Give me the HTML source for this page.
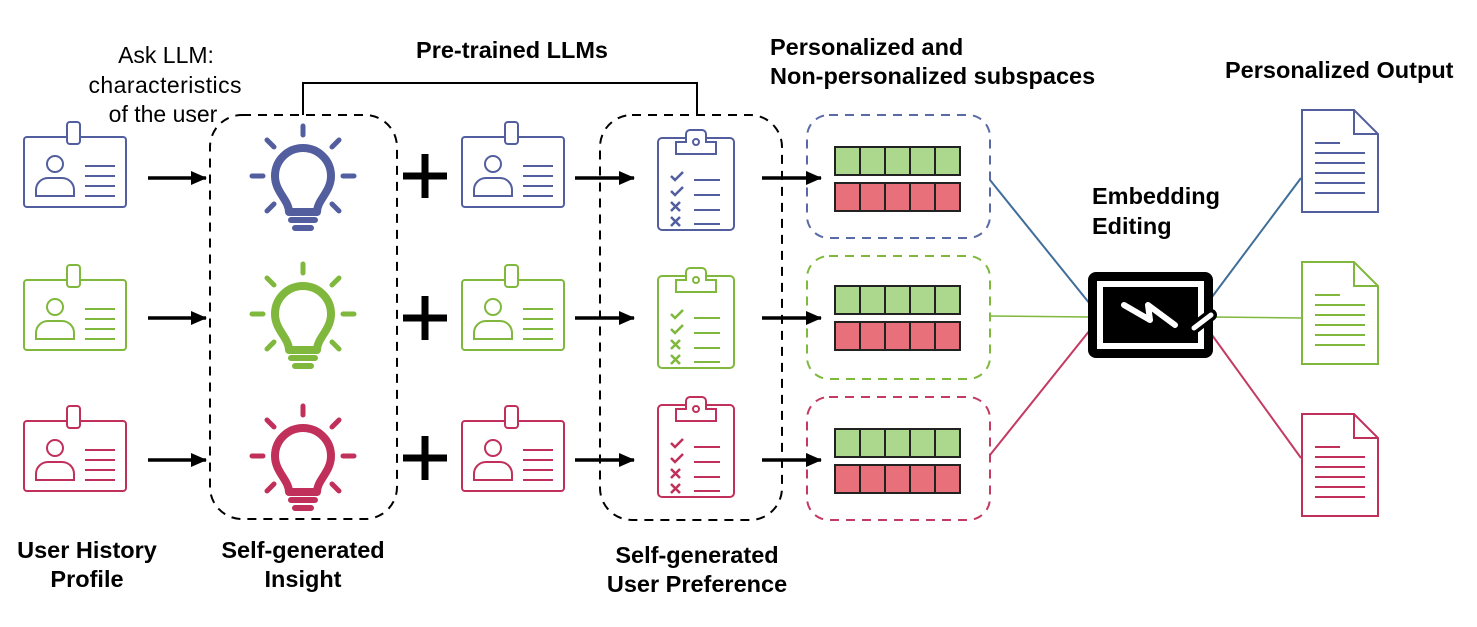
<!DOCTYPE html>
<html><head><meta charset="utf-8"><style>
html,body{margin:0;padding:0;background:#fff;}
svg{display:block;}
text{font-family:"Liberation Sans",Arial,sans-serif;fill:#000;}
.b{font-weight:bold;font-size:23.5px;}
.n{font-size:23px;}
</style></head><body>
<svg width="1477" height="627" viewBox="0 0 1477 627" xmlns="http://www.w3.org/2000/svg">
<defs>
<marker id="ah" markerWidth="16" markerHeight="14" refX="15" refY="7" orient="auto" markerUnits="userSpaceOnUse">
<path d="M0,0 L16,7 L0,14 Z" fill="#000"/></marker>
<g id="card">
<rect x="0" y="15" width="102" height="70" rx="3" fill="none" stroke="currentColor" stroke-width="2"/>
<rect x="43" y="0" width="13" height="22" rx="3" fill="#fff" stroke="currentColor" stroke-width="2"/>
<circle cx="31" cy="42" r="8" fill="none" stroke="currentColor" stroke-width="2"/>
<path d="M12,74 v-6 a12,12 0 0 1 12,-12 h14 a12,12 0 0 1 12,12 v6 z" fill="none" stroke="currentColor" stroke-width="2"/>
<path d="M61,44 h30 M61,54 h30 M61,64 h30 M61,74 h30" stroke="currentColor" stroke-width="2"/>
</g>
<g id="bulb">
<path d="M-14,30 C-14,18 -28,10 -28,-6 A28,28 0 0 1 28,-6 C28,10 14,18 14,30 Z" fill="none" stroke="currentColor" stroke-width="8" stroke-linejoin="round"/>
<path d="M-12,38 h24 M-8,46 h16" stroke="currentColor" stroke-width="6" stroke-linecap="round"/>
<path d="M0,-47 v-9 M-40,-6 h-11 M40,-6 h11 M-29,-35 l-7,-7 M29,-35 l7,-7 M-29,22 l-7,7 M29,22 l7,7" stroke="currentColor" stroke-width="5" stroke-linecap="round"/>
</g>
<g id="clip">
<rect x="0" y="12" width="76" height="92" rx="4" fill="none" stroke="currentColor" stroke-width="2"/>
<path d="M18,28 v-12 h10 v-8 a4,4 0 0 1 4,-4 h12 a4,4 0 0 1 4,4 v8 h10 v12 z" fill="#fff" stroke="currentColor" stroke-width="2"/>
<circle cx="38" cy="16" r="3" fill="none" stroke="currentColor" stroke-width="2"/>
<path d="M13,50 l4,4 l8,-8 M13,65 l4,4 l8,-8 M13,76 l9,9 M22,76 l-9,9 M13,91 l9,9 M22,91 l-9,9" fill="none" stroke="currentColor" stroke-width="2.5"/>
<path d="M36,54 h26 M36,69 h26 M36,84 h26 M36,98 h26" stroke="currentColor" stroke-width="2"/>
</g>
<g id="emb">
<rect x="0" y="0" width="125" height="28" fill="#acd88e" stroke="#222" stroke-width="2"/>
<rect x="0" y="36" width="125" height="28" fill="#e8707a" stroke="#222" stroke-width="2"/>
<path d="M25,0 v28 M50,0 v28 M75,0 v28 M100,0 v28 M25,36 v28 M50,36 v28 M75,36 v28 M100,36 v28" stroke="#222" stroke-width="2"/>
</g>
<g id="doc">
<path d="M0,0 H52 L76,24 V102 H0 Z M52,0 V24 H76" fill="none" stroke="currentColor" stroke-width="2"/>
<path d="M13,33 h25 M13,43 h50 M13,53 h50 M13,63 h50 M13,73 h50 M13,83 h50" stroke="currentColor" stroke-width="2"/>
</g>
</defs>

<!-- texts -->
<text class="n" x="166" y="63" text-anchor="middle">Ask LLM:</text>
<text class="n" x="165" y="93" text-anchor="middle" textLength="153">characteristics</text>
<text class="n" x="163" y="122" text-anchor="middle">of the user</text>
<text class="b" x="512" y="58" text-anchor="middle">Pre-trained LLMs</text>
<text class="b" x="770" y="55">Personalized and</text>
<text class="b" x="770" y="84">Non-personalized subspaces</text>
<text class="b" x="1225" y="78">Personalized Output</text>
<text class="b" x="1092" y="204">Embedding</text>
<text class="b" x="1092" y="234">Editing</text>
<text class="b" x="87" y="558" text-anchor="middle">User History</text>
<text class="b" x="87" y="587" text-anchor="middle">Profile</text>
<text class="b" x="303" y="558" text-anchor="middle">Self-generated</text>
<text class="b" x="303" y="587" text-anchor="middle">Insight</text>
<text class="b" x="697" y="563" text-anchor="middle">Self-generated</text>
<text class="b" x="697" y="592" text-anchor="middle">User Preference</text>

<!-- bracket -->
<path d="M303,115 V83 H697 V115" fill="none" stroke="#000" stroke-width="2"/>
<!-- dashed big boxes -->
<rect x="210" y="115" width="187" height="404" rx="32" fill="none" stroke="#000" stroke-width="2" stroke-dasharray="9,7"/>
<rect x="600" y="115" width="182" height="405" rx="32" fill="none" stroke="#000" stroke-width="2" stroke-dasharray="9,7"/>

<!-- embedding dashed boxes -->
<rect x="807" y="115" width="183" height="123" rx="22" fill="none" stroke="#5a6aa6" stroke-width="2" stroke-dasharray="9,7"/>
<rect x="807" y="256" width="183" height="123" rx="22" fill="none" stroke="#7fb83c" stroke-width="2" stroke-dasharray="9,7"/>
<rect x="807" y="397" width="183" height="123" rx="22" fill="none" stroke="#c33a62" stroke-width="2" stroke-dasharray="9,7"/>

<!-- connector lines -->
<path d="M990,180 L1090,304" stroke="#3f6e98" stroke-width="2"/>
<path d="M990,316 L1090,317" stroke="#7fb83c" stroke-width="1.5"/>
<path d="M990,455 L1090,330" stroke="#c33a62" stroke-width="2"/>
<path d="M1212,297 L1301,178" stroke="#3f6e98" stroke-width="2"/>
<path d="M1212,317 L1301,318" stroke="#7fb83c" stroke-width="1.5"/>
<path d="M1212,335 L1301,458" stroke="#c33a62" stroke-width="2"/>

<!-- rows -->
<g color="#525e9e">
<use href="#card" x="24" y="122"/>
<use href="#bulb" x="303" y="182"/>
<use href="#card" x="462" y="122"/>
<use href="#clip" x="658" y="126"/>
<use href="#emb" x="835" y="147"/>
</g>
<g color="#7fb83c">
<use href="#card" x="24" y="265"/>
<use href="#bulb" x="303" y="320"/>
<use href="#card" x="462" y="265"/>
<use href="#clip" x="658" y="264"/>
<use href="#emb" x="835" y="286"/>
</g>
<g color="#c0305a">
<use href="#card" x="24" y="406"/>
<use href="#bulb" x="303" y="462"/>
<use href="#card" x="462" y="406"/>
<use href="#clip" x="658" y="393"/>
<use href="#emb" x="835" y="429"/>
</g>

<!-- arrows -->
<g stroke="#000" stroke-width="3.5" marker-end="url(#ah)">
<path d="M148,178 H206"/><path d="M148,318 H206"/><path d="M148,460 H206"/>
<path d="M575,178 H634"/><path d="M575,318 H634"/><path d="M575,460 H634"/>
<path d="M762,178 H821"/><path d="M762,318 H821"/><path d="M762,460 H821"/>
</g>
<!-- plus -->
<g stroke="#000" stroke-width="7">
<path d="M403,176 h44 M425,154 v44"/>
<path d="M403,318 h44 M425,296 v44"/>
<path d="M403,458 h44 M425,436 v44"/>
</g>

<!-- editing tablet -->
<rect x="1088" y="272" width="125" height="86" rx="8" fill="#000"/>
<rect x="1097" y="281" width="107" height="68" fill="#fff"/>
<rect x="1103" y="287" width="95" height="56" fill="#000"/>
<path d="M1124,305 L1150,320 L1148,305 L1175,325" fill="none" stroke="#fff" stroke-width="6" stroke-linecap="round" stroke-linejoin="round"/>
<path d="M1194,328 L1211,315" stroke="#000" stroke-width="12" stroke-linecap="round"/>
<path d="M1194,328 L1211,315" stroke="#fff" stroke-width="5" stroke-linecap="round"/>

<!-- docs -->
<use href="#doc" x="1302" y="110" color="#525e9e"/>
<use href="#doc" x="1302" y="262" color="#7fb83c"/>
<use href="#doc" x="1302" y="414" color="#c0305a"/>
</svg>
</body></html>
